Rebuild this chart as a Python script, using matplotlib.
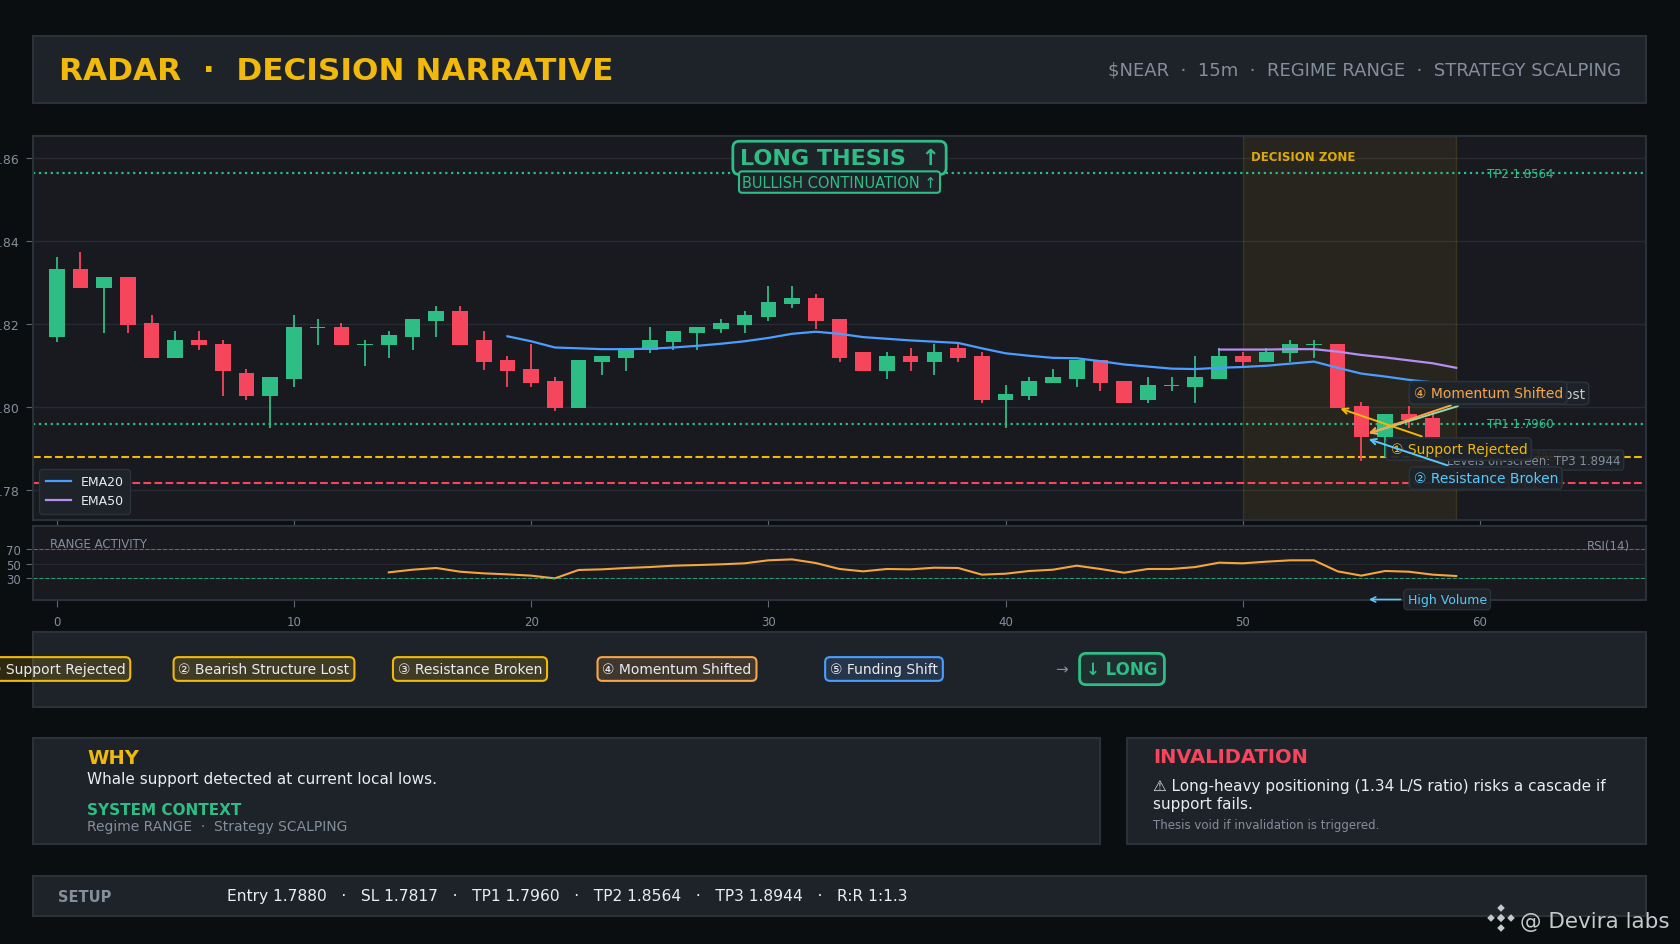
import numpy as np
import matplotlib
matplotlib.use("Agg")
import matplotlib.pyplot as plt
from matplotlib.patches import Rectangle, RegularPolygon
from matplotlib.colors import to_rgba

# ---------------- data ----------------
opens = [1.8170, 1.8333, 1.8287, 1.8314, 1.8203, 1.8118, 1.8162, 1.8152, 1.8082, 1.8028,
         1.8069, 1.8190, 1.8193, 1.8149, 1.8149, 1.8170, 1.8208, 1.8233, 1.8162, 1.8114,
         1.8092, 1.8063, 1.7999, 1.8110, 1.8118, 1.8139, 1.8158, 1.8180, 1.8189, 1.8199,
         1.8218, 1.8250, 1.8263, 1.8213, 1.8133, 1.8088, 1.8123, 1.8110, 1.8143, 1.8123,
         1.8018, 1.8028, 1.8059, 1.8069, 1.8114, 1.8063, 1.8018, 1.8052, 1.8049, 1.8069,
         1.8123, 1.8110, 1.8130, 1.8150, 1.8152, 1.8003, 1.7929, 1.7984, 1.7974]
highs = [1.8362, 1.8374, 1.8314, 1.8314, 1.8222, 1.8184, 1.8184, 1.8162, 1.8092, 1.8073,
         1.8222, 1.8213, 1.8203, 1.8162, 1.8184, 1.8213, 1.8245, 1.8245, 1.8184, 1.8123,
         1.8152, 1.8073, 1.8114, 1.8123, 1.8143, 1.8193, 1.8184, 1.8193, 1.8213, 1.8233,
         1.8292, 1.8292, 1.8273, 1.8213, 1.8133, 1.8133, 1.8143, 1.8152, 1.8152, 1.8133,
         1.8054, 1.8073, 1.8092, 1.8114, 1.8114, 1.8063, 1.8073, 1.8073, 1.8123, 1.8143,
         1.8133, 1.8143, 1.8162, 1.8162, 1.8152, 1.8012, 1.7984, 1.8003, 1.7992]
lows = [1.8158, 1.8287, 1.8180, 1.8180, 1.8118, 1.8118, 1.8139, 1.8028, 1.8018, 1.7950,
        1.8049, 1.8149, 1.8149, 1.8100, 1.8118, 1.8139, 1.8170, 1.8149, 1.8089, 1.8049,
        1.8049, 1.7990, 1.7999, 1.8078, 1.8088, 1.8130, 1.8139, 1.8139, 1.8180, 1.8180,
        1.8208, 1.8240, 1.8189, 1.8110, 1.8088, 1.8069, 1.8088, 1.8078, 1.8110, 1.8009,
        1.7950, 1.8018, 1.8059, 1.8049, 1.8040, 1.8009, 1.8009, 1.8040, 1.8009, 1.8069,
        1.8100, 1.8110, 1.8110, 1.8118, 1.7999, 1.7870, 1.7880, 1.7950, 1.7925]
closes = [1.8333, 1.8287, 1.8314, 1.8199, 1.8118, 1.8162, 1.8149, 1.8088, 1.8028, 1.8073,
          1.8193, 1.8193, 1.8149, 1.8152, 1.8174, 1.8213, 1.8233, 1.8149, 1.8110, 1.8088,
          1.8059, 1.7999, 1.8114, 1.8123, 1.8143, 1.8162, 1.8184, 1.8193, 1.8203, 1.8222,
          1.8254, 1.8263, 1.8208, 1.8118, 1.8088, 1.8123, 1.8110, 1.8133, 1.8118, 1.8018,
          1.8032, 1.8063, 1.8073, 1.8114, 1.8059, 1.8009, 1.8054, 1.8054, 1.8073, 1.8123,
          1.8110, 1.8133, 1.8152, 1.8152, 1.7999, 1.7929, 1.7984, 1.7970, 1.7925]

ema20_start = 19
ema20 = [1.8171, 1.8159, 1.8144, 1.8142, 1.8140, 1.8140, 1.8141, 1.8144, 1.8148, 1.8153,
         1.8159, 1.8167, 1.8177, 1.8182, 1.8177, 1.8169, 1.8165, 1.8161, 1.8158, 1.8155,
         1.8142, 1.8130, 1.8124, 1.8119, 1.8118, 1.8111, 1.8103, 1.8098, 1.8093, 1.8092,
         1.8095, 1.8097, 1.8100, 1.8105, 1.8110, 1.8095, 1.8081, 1.8074, 1.8066, 1.8060,
         1.8055]
ema50_start = 49
ema50 = [1.8139, 1.8139, 1.8139, 1.8140, 1.8140, 1.8134, 1.8126, 1.8120, 1.8113, 1.8106,
         1.8095]

rsi_start = 14
rsi = [37.9, 41.6, 44.0, 38.8, 36.5, 35.1, 33.3, 29.5, 41.2, 42.1,
       44.0, 45.3, 47.2, 48.1, 49.1, 50.5, 54.7, 56.0, 50.9, 42.6,
       39.3, 42.6, 42.1, 44.4, 44.0, 34.7, 36.0, 39.8, 41.6, 47.2,
       42.6, 37.4, 42.6, 42.6, 45.3, 51.4, 50.5, 52.8, 54.7, 54.7,
       39.3, 33.3, 39.8, 38.8, 34.7, 32.8]

entry, sl, tp1, tp2, tp3 = 1.7880, 1.7817, 1.7960, 1.8564, 1.8944
zone_start, zone_end = 50, 59
high_volume_x = 55.2

x_ticks = [0, 10, 20, 30, 40, 50, 60]
price_ticks = [1.78, 1.80, 1.82, 1.84, 1.86]
rsi_ticks = [30, 50, 70]

steps = ["① Support Rejected", "② Bearish Structure Lost", "③ Resistance Broken",
         "④ Momentum Shifted", "⑤ Funding Shift"]
step_kinds = ["yellow", "yellow", "yellow", "orange", "blue"]

# ---------------- style ----------------
BG = "#0b0e11"
PANEL = "#1e2329"
AXBG = "#181a20"
EDGE = "#2b3139"
GRID = "#262a31"
MUTED = "#848e9c"
WHITE = "#eaecef"
YEL = "#f0b90b"
GRN = "#2ebd85"
RED = "#f6465d"
BLUE = "#4a9eff"
PURP = "#b48ef0"
ORNG = "#f7a54a"
LBLUE = "#5ac8fa"
PGRN = "#9bd9a8"
KIND_COL = {"yellow": YEL, "orange": ORNG, "blue": BLUE}

plt.rcParams["font.family"] = ["DejaVu Sans", "Noto Sans CJK SC"]

W, H = 1680, 945
fig = plt.figure(figsize=(W / 100, H / 100), dpi=100)
fig.patch.set_facecolor(BG)


def fbox(x0, y0, x1, y1):
    return [x0 / W, 1 - y1 / H, (x1 - x0) / W, (y1 - y0) / H]


def fx(x):
    return x / W


def fy(y):
    return 1 - y / H


def panel(x0, y0, x1, y1):
    r = Rectangle((x0 / W, 1 - y1 / H), (x1 - x0) / W, (y1 - y0) / H,
                  transform=fig.transFigure, facecolor=PANEL, edgecolor=EDGE,
                  linewidth=1.5, zorder=0.5)
    fig.add_artist(r)


# ---------------- panels ----------------
panel(33, 37, 1646, 104)
panel(33, 633, 1646, 708)
panel(33, 739, 1100, 845)
panel(1127, 739, 1646, 845)
panel(33, 877, 1646, 917)

# header
fig.text(fx(59), fy(80.4), "RADAR  ·  DECISION NARRATIVE", fontsize=22.4,
         fontweight="bold", color=YEL, va="baseline", ha="left")
fig.text(fx(1621), fy(76), "$NEAR  ·  15m  ·  REGIME RANGE  ·  STRATEGY SCALPING",
         fontsize=13, color=MUTED, va="baseline", ha="right")

# ---------------- main chart ----------------
ax = fig.add_axes(fbox(33, 137, 1646, 521))
ax.set_facecolor(AXBG)
n = len(closes)
xs = np.arange(n)
o = np.array(opens); c = np.array(closes); hi = np.array(highs); lo = np.array(lows)
up = c >= o
cols = np.where(up, GRN, RED)
ax.vlines(xs, lo, hi, colors=cols, linewidth=1.3, zorder=3)
body_bottom = np.minimum(o, c)
body_h = np.maximum(np.abs(c - o), 0.00025)
ax.bar(xs, body_h, bottom=body_bottom, width=0.66, color=cols, zorder=4, linewidth=0)

ax.plot(np.arange(ema20_start, ema20_start + len(ema20)), ema20, color=BLUE,
        linewidth=1.6, label="EMA20", zorder=5)
ax.plot(np.arange(ema50_start, ema50_start + len(ema50)), ema50, color=PURP,
        linewidth=1.6, label="EMA50", zorder=5)

ax.axvspan(zone_start, zone_end, facecolor=to_rgba(YEL, 0.07),
           edgecolor=to_rgba(YEL, 0.14), linewidth=1, zorder=1)

ax.axhline(tp2, color=GRN, linestyle=":", linewidth=1.6, zorder=2)
ax.axhline(tp1, color=GRN, linestyle=":", linewidth=1.6, zorder=2)
ax.axhline(entry, color=YEL, linestyle="--", linewidth=1.5, zorder=2)
ax.axhline(sl, color=RED, linestyle="--", linewidth=1.5, zorder=2)

ax.set_xlim(-1, 67)
ax.set_ylim(1.7728, 1.8654)
ax.set_yticks(price_ticks)
ax.set_yticklabels([f"{v:.2f}" for v in price_ticks])
ax.set_xticks(x_ticks)
ax.tick_params(axis="x", labelbottom=False, length=6, color="#5e6673")
ax.tick_params(axis="y", labelsize=9, labelcolor=MUTED, color="#5e6673", length=5, pad=5)
ax.grid(axis="y", color=GRID, linewidth=1)
ax.set_axisbelow(True)
for s in ax.spines.values():
    s.set_color(EDGE)
    s.set_linewidth(1.5)

for lvl, name, col in [(tp2, "TP2", GRN), (tp1, "TP1", GRN), (entry, "Entry", YEL), (sl, "SL", RED)]:
    ax.text(60.3, lvl, f"{name} {lvl:.4f}", color=col, fontsize=8.5, va="center",
            ha="left", zorder=6)

ax.text(0.984, 0.156, f"Levels on-screen: TP3 {tp3:.4f}", transform=ax.transAxes,
        ha="right", va="center", fontsize=8.5, color=MUTED, zorder=6,
        bbox=dict(boxstyle="round,pad=0.3", fc=to_rgba(PANEL, 0.92), ec=EDGE, lw=1))

ax.text(50.33, 0.947, "DECISION ZONE", transform=ax.get_xaxis_transform(),
        color=YEL, fontsize=8.5, fontweight="bold", va="center", ha="left", alpha=0.9)

ax.text(0.5, 0.943, "LONG THESIS  ↑", transform=ax.transAxes, ha="center", va="center",
        fontsize=16, fontweight="bold", color=GRN, zorder=8,
        bbox=dict(boxstyle="round,pad=0.3", fc=PANEL, ec=GRN, lw=2))
ax.text(0.5, 0.880, "BULLISH CONTINUATION ↑", transform=ax.transAxes, ha="center",
        va="center", fontsize=10.5, color=GRN, zorder=9,
        bbox=dict(boxstyle="round,pad=0.22", fc=PANEL, ec=GRN, lw=1.5))

# chart annotations: (text, target_x, target_y, text_x, text_y, color, ha)
annotations = [
    ("③ Bearish Structure Lost", 55.2, 1.7935, 57.2, 1.8033, PGRN, "left"),
    ("④ Momentum Shifted", 55.2, 1.7935, 57.2, 1.8035, ORNG, "left"),
    ("① Support Rejected", 54.0, 1.7999, 56.23, 1.7899, YEL, "left"),
    ("② Resistance Broken", 55.2, 1.7925, 57.2, 1.7829, LBLUE, "left"),
]
for i, (t, tx, ty, lx, ly, col, ha) in enumerate(annotations):
    tcol = "#c3ccc8" if col == PGRN else col
    ax.annotate(t, xy=(tx, ty), xytext=(lx, ly), ha=ha, va="center", fontsize=10,
                color=tcol, zorder=10 + i, annotation_clip=False,
                bbox=dict(boxstyle="round,pad=0.3", fc=to_rgba(PANEL, 0.92), ec=EDGE, lw=1.2),
                arrowprops=dict(arrowstyle="->", color=col, lw=1.4))

leg = ax.legend(loc="lower left", fontsize=9, frameon=True, facecolor=PANEL,
                edgecolor=EDGE, labelcolor=WHITE, handlelength=2.0, borderpad=0.5)
leg.get_frame().set_alpha(1)

# ---------------- RSI panel ----------------
ax2 = fig.add_axes(fbox(33, 527, 1646, 601))
ax2.set_facecolor(AXBG)
ax2.plot(np.arange(rsi_start, rsi_start + len(rsi)), rsi, color="#f5a53a", linewidth=1.5)
ax2.axhline(70, color=to_rgba(RED, 0.75), linestyle="--", linewidth=0.8)
ax2.axhline(30, color=to_rgba(GRN, 0.75), linestyle="--", linewidth=0.8)
ax2.set_xlim(-1, 67)
ax2.set_ylim(-0.7, 102.6)
ax2.set_yticks(rsi_ticks)
ax2.set_xticks(x_ticks)
ax2.tick_params(axis="both", labelsize=8.5, labelcolor=MUTED, color="#5e6673", length=5)
ax2.tick_params(axis="x", pad=6)
ax2.grid(axis="y", color=GRID, linewidth=0.8)
ax2.set_axisbelow(True)
for s in ax2.spines.values():
    s.set_color(EDGE)
    s.set_linewidth(1.5)
ax2.text(0.0105, 0.77, "RANGE ACTIVITY", transform=ax2.transAxes, fontsize=8.5,
         color=MUTED, va="center", ha="left")
ax2.text(0.990, 0.73, "RSI(14)", transform=ax2.transAxes, fontsize=8.5,
         color=MUTED, va="center", ha="right")
ax2.annotate("High Volume", xy=(high_volume_x, 0), xytext=(56.95, 0), ha="left",
             va="center", fontsize=9, color=LBLUE, annotation_clip=False, zorder=10,
             bbox=dict(boxstyle="round,pad=0.3", fc=PANEL, ec=EDGE, lw=1),
             arrowprops=dict(arrowstyle="->", color=LBLUE, lw=1.2))

# ---------------- step row ----------------
step_centers = [57, 264, 470, 677, 884]
for cx, label, kind in zip(step_centers, steps, step_kinds):
    col = KIND_COL[kind]
    fig.text(fx(cx), fy(670), label, ha="center", va="center", fontsize=10, color=WHITE,
             zorder=5, bbox=dict(boxstyle="round,pad=0.35", fc=to_rgba(col, 0.16),
                                 ec=col, lw=1.5))
fig.text(fx(1061), fy(670), "→", ha="center", va="center", fontsize=11, color=MUTED)
fig.text(fx(1122), fy(670), "↓ LONG", ha="center", va="center", fontsize=12,
         fontweight="bold", color=GRN, zorder=5,
         bbox=dict(boxstyle="round,pad=0.4", fc=to_rgba(GRN, 0.08), ec=GRN, lw=2))

# ---------------- why / invalidation ----------------
fig.text(fx(87), fy(764), "WHY", fontsize=14, fontweight="bold", color=YEL, va="baseline")
fig.text(fx(87), fy(784), "Whale support detected at current local lows.", fontsize=11,
         color=WHITE, va="baseline")
fig.text(fx(87), fy(815), "SYSTEM CONTEXT", fontsize=11, fontweight="bold", color=GRN,
         va="baseline")
fig.text(fx(87), fy(831), "Regime RANGE  ·  Strategy SCALPING", fontsize=10, color=MUTED,
         va="baseline")

fig.text(fx(1153), fy(763.3), "INVALIDATION", fontsize=14, fontweight="bold", color=RED,
         va="baseline")
fig.text(fx(1153), fy(791), "⚠ Long-heavy positioning (1.34 L/S ratio) risks a cascade if",
         fontsize=11, color=WHITE, va="baseline")
fig.text(fx(1153), fy(809), "support fails.", fontsize=11, color=WHITE, va="baseline")
fig.text(fx(1153), fy(829), "Thesis void if invalidation is triggered.", fontsize=8.5,
         color=MUTED, va="baseline")

# ---------------- setup bar ----------------
fig.text(fx(58), fy(901.5), "SETUP", fontsize=10.5, fontweight="bold", color=MUTED,
         va="baseline")
sep = "   ·   "
setup_text = sep.join([f"Entry {entry:.4f}", f"SL {sl:.4f}", f"TP1 {tp1:.4f}",
                       f"TP2 {tp2:.4f}", f"TP3 {tp3:.4f}", "R:R 1:1.3"])
fig.text(fx(227), fy(901.5), setup_text, fontsize=11.2, color=WHITE, va="baseline")

# ---------------- watermark ----------------
fig.text(fx(1670), fy(928), "@ Devira labs", fontsize=15.5, color="#c5c8cc",
         ha="right", va="baseline", zorder=3)
lax = fig.add_axes(fbox(1486, 904, 1516, 934))
lax.set_zorder(3)
lax.patch.set_alpha(0)
lax.set_xlim(0, 30)
lax.set_ylim(0, 30)
lax.axis("off")
for (px, py, r) in [(15, 15, 4.2), (15, 25, 3.8), (15, 5, 3.8), (5, 15, 3.8), (25, 15, 3.8)]:
    lax.add_patch(RegularPolygon((px, py), 4, radius=r, orientation=0,
                                 facecolor="#c5c8cc", edgecolor="none"))

fig.savefig("out.png", dpi=100, facecolor=BG)
